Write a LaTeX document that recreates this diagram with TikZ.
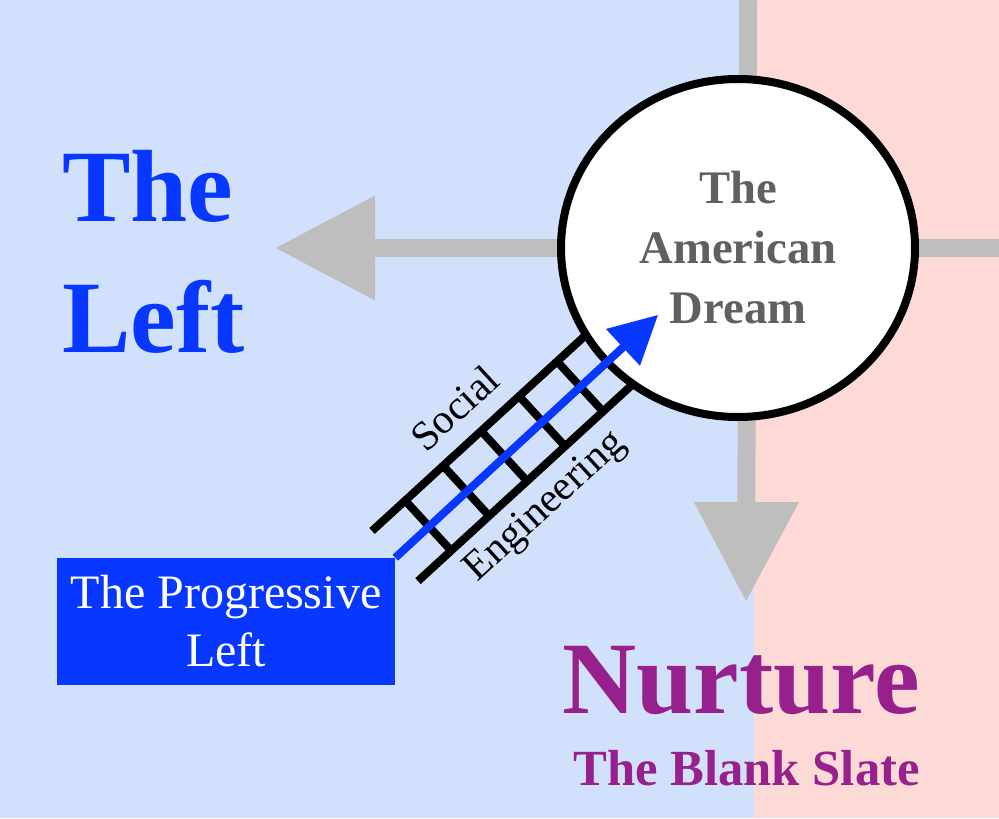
\documentclass[tikz,border=0pt]{standalone}
\usepackage{fontspec}
\setmainfont{Liberation Serif}
\usepackage{xcolor}
\usepackage{tikz}
\usetikzlibrary{positioning,arrows.meta,shapes.geometric}

\definecolor{bgblue}{RGB}{210,225,251}
\definecolor{bgpink}{RGB}{253,218,214}
\definecolor{axisgray}{RGB}{190,190,190}
\definecolor{leftblue}{RGB}{8,56,255}
\definecolor{nurturepurple}{RGB}{150,32,140}
\definecolor{dreamgray}{RGB}{96,96,96}

\begin{document}
\begin{tikzpicture}[x=0.75pt,y=-0.75pt,
                    axis line/.style={draw=axisgray,line width=13.5pt},
                    axis arrow/.style={axis line,-{Triangle[length=75pt,width=75pt]}},
                    rail/.style={line width=6pt},
                    ladder text/.style={transform shape,inner sep=0pt,
                    font=\fontsize{31}{34}\selectfont},
                    big label/.style={inner sep=0pt,font=\fontsize{77}{98}\selectfont\bfseries}]

% backgrounds
\fill[bgblue] (0,0) rectangle (754,818);
\fill[bgpink] (754,0) rectangle (999,818);
\useasboundingbox (0,0) rectangle (999,818);

% axes
\coordinate (top end) at (748,0);
\coordinate (right end) at (999,248);
\coordinate (left tip) at (275,248);
\coordinate (down tip) at (746,602);
\draw[axis arrow] (right end) -- (left tip);
\draw[axis arrow] (top end) -- (down tip);

% ladder
\begin{scope}[shift={(395,556)},rotate=42.5]
  \draw[rail] (0,-34) -- (300,-34);
  \draw[rail] (0,34) -- (300,34);
  \foreach \s in {45,96.5,148,199.5,251}
    \draw[rail] (\s,-34) -- (\s,34);
  \node[ladder text] (social) at (144,-69) {Social};
  \node[ladder text] (engineering) at (144,66) {Engineering};
  \coordinate (ladder top) at (357,0);
\end{scope}

\node[ellipse,draw,line width=6pt,fill=white,minimum width=265.5pt,
      minimum height=253.5pt,inner sep=0pt,align=center,text=dreamgray,
      font=\fontsize{35}{45}\selectfont\bfseries] (dream) at (738,248)
      {The\\American\\Dream};

\node[fill=leftblue,text=white,minimum width=253.5pt,minimum height=95.25pt,
      inner sep=0pt,align=center,font=\fontsize{36}{43.5}\selectfont]
      (progressive) at (226,621.5) {The Progressive\\Left};

\draw[line width=6pt,leftblue,-{Triangle[length=36pt,width=36pt]}]
    (progressive.north east) -- (ladder top);

% labels
\node[big label,text=leftblue,align=left,anchor=west] (left) at (62,252) {The\\Left};
\node[big label,text=nurturepurple,anchor=base east] (nurture) at (920,713) {Nurture};
\node[inner sep=0pt,text=nurturepurple,anchor=base east,
      font=\fontsize{38}{42}\selectfont\bfseries] (slate) at (920,785) {The Blank Slate};

\end{tikzpicture}
\end{document}
